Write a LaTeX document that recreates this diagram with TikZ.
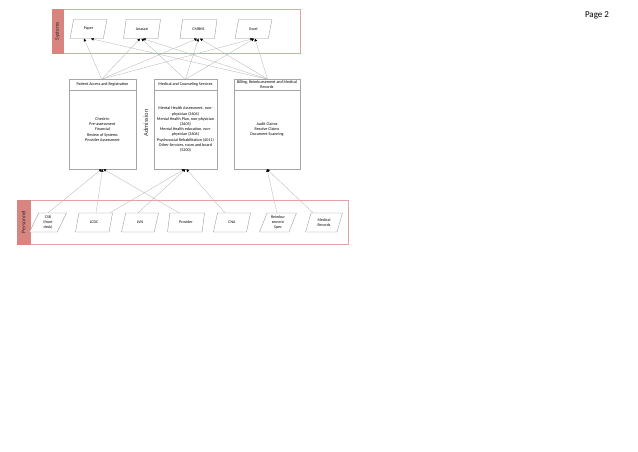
\documentclass[tikz,border=0pt]{standalone}
\usepackage{fontspec}
\setmainfont{Carlito}
\usetikzlibrary{shapes.geometric,arrows.meta}
\definecolor{bandline}{HTML}{E6A3A3}
\definecolor{stripfill}{HTML}{D8857F}
\definecolor{boxline}{HTML}{A6A6A6}
\definecolor{connline}{HTML}{B4B4B4}
\begin{document}
\begin{tikzpicture}[x=1pt,y=-1pt,
  band/.style={draw=bandline, line width=0.5pt, fill=white, inner sep=0pt},
  strip/.style={fill=stripfill, draw=stripfill, line width=0.5pt, inner sep=0pt},
  striplabel/.style={rotate=90, font=\fontsize{5.5}{6.5}\selectfont, text=black!85},
  para/.style={trapezium, trapezium left angle=70, trapezium right angle=110,
    trapezium stretches=true, draw=gray!85, line width=0.35pt, fill=white,
    minimum width=37pt, minimum height=19pt, inner sep=0pt, align=center,
    font=\fontsize{4}{4.8}\selectfont},
  mbox/.style={draw=boxline, line width=0.4pt, fill=white, inner sep=0pt,
    minimum height=90pt},
  btext/.style={align=center, font=\fontsize{4.1}{5.2}\selectfont, inner sep=0pt},
  conn/.style={draw=connline, line width=0.3pt,
    -{Triangle[length=2.6pt,width=2.6pt,color=black]}}
]
\useasboundingbox (0,0) rectangle (638,452);
\fill[white] (0,0) rectangle (638,452);

\node[font=\fontsize{9}{10}\selectfont] (page) at (597,15) {Page 2};

% Systems band
\node[band, minimum width=248pt, minimum height=44pt] (sysband) at (176,31) {};
\node[strip, minimum width=11pt, minimum height=44pt] (sysstrip) at (57.5,31) {};
\node[striplabel] (syslabel) at (57.5,31) {Systems};

\node[para] (paper)   at (88.5,29) {Paper};
\node[para] (anasazi) at (142,29)  {Anasazi};
\node[para] (cmbhs)   at (198.5,29) {CMBHS};
\node[para] (excel)   at (253.5,29) {Excel};

% Personnel band
\node[band, minimum width=331pt, minimum height=44pt] (perband) at (182.5,222) {};
\node[strip, minimum width=13pt, minimum height=44pt] (perstrip) at (23.5,222) {};
\node[striplabel] (perlabel) at (23.5,222) {Personnel};

\node[para] (csr)    at (48,222.5)  {CSR\\(front\\desk)};
\node[para] (lcdc)   at (94,222.5)  {LCDC};
\node[para] (lvn)    at (140,222.5) {LVN};
\node[para] (prov)   at (186,222.5) {Provider};
\node[para] (cna)    at (232,222.5) {CNA};
\node[para] (reimb)  at (278,222.5) {Reimbur\\sement\\Spec};
\node[para] (medrec) at (324,222.5) {Medical\\Records};

% Middle boxes
\node[mbox, minimum width=67pt] (pa)   at (102.5,124) {};
\node[mbox, minimum width=63pt] (mc)   at (185.5,124) {};
\node[mbox, minimum width=66pt] (bill) at (267,124) {};
\foreach \b in {pa,mc,bill}
  \draw[draw=boxline, line width=0.4pt] ([yshift=-11pt]\b.north west) -- ([yshift=-11pt]\b.north east);

\node[btext] (pahead) at (102.5,84.5) {Patient Access and Registration};
\node[btext] (mchead) at (185.5,84.5) {Medical and Counseling Services};
\node[btext] (billhead) at (267,84.2) {Billing, Reimbursement and Medical\\Records};

\node[btext] (pabody) at (102.5,129.5) {Check-in\\Pre-assessment\\Financial\\Review of Systems\\Provider Assessment};
\node[btext] (mcbody) at (185.5,129.5) {Mental Health Assessment, non-\\physician (3604)\\Mental Health Plan, non-physician\\(3605)\\Mental Health education, non-\\physician (3606)\\Psychosocial Rehabilitation (4011)\\Other Services, room and board\\(5200)};
\node[btext] (billbody) at (267,129.5) {Audit Claims\\Resolve Claims\\Document Scanning};

\node[rotate=90, font=\fontsize{6.4}{7}\selectfont, text=black!80] (adm) at (146,123) {Admission};

% Systems connectors
\draw[conn] ([xshift=-1pt]pa.north) -- ([xshift=-4.5pt]paper.south);
\draw[conn] ([xshift=-0.5pt]pa.north) -- ([xshift=-2pt]anasazi.south);
\draw[conn] (pa.north) -- ([xshift=-1.5pt]cmbhs.south);
\draw[conn] ([xshift=0.5pt]pa.north) -- ([xshift=-0.5pt]excel.south);

\draw[conn] ([xshift=-1pt]mc.north) -- ([xshift=-0.5pt]anasazi.south);
\draw[conn] (mc.north) -- ([xshift=0pt]cmbhs.south);
\draw[conn] ([xshift=1pt]mc.north) -- ([xshift=0.5pt]excel.south);

\draw[conn] ([xshift=-1pt]bill.north) -- ([xshift=2.5pt]paper.south);
\draw[conn] ([xshift=-0.5pt]bill.north) -- ([xshift=1pt]anasazi.south);
\draw[conn] (bill.north) -- ([xshift=1.5pt]cmbhs.south);
\draw[conn] ([xshift=0.5pt]bill.north) -- ([xshift=1.5pt]excel.south);

% Personnel connectors
\draw[conn] (csr.north) -- ([xshift=-1pt]pa.south);
\draw[conn] ([xshift=2pt]lcdc.north) -- (pa.south);
\draw[conn] ([xshift=-7pt]prov.north) -- ([xshift=1pt]pa.south);

\draw[conn] ([xshift=16pt]lcdc.north) -- ([xshift=-1pt]mc.south);
\draw[conn] ([xshift=-2pt]lvn.north) -- (mc.south);
\draw[conn] ([xshift=-7pt]cna.north) -- ([xshift=1pt]mc.south);

\draw[conn] ([xshift=-1pt]reimb.north) -- (bill.south);
\draw[conn] ([xshift=-11pt]medrec.north) -- (bill.south);
\end{tikzpicture}
\end{document}
